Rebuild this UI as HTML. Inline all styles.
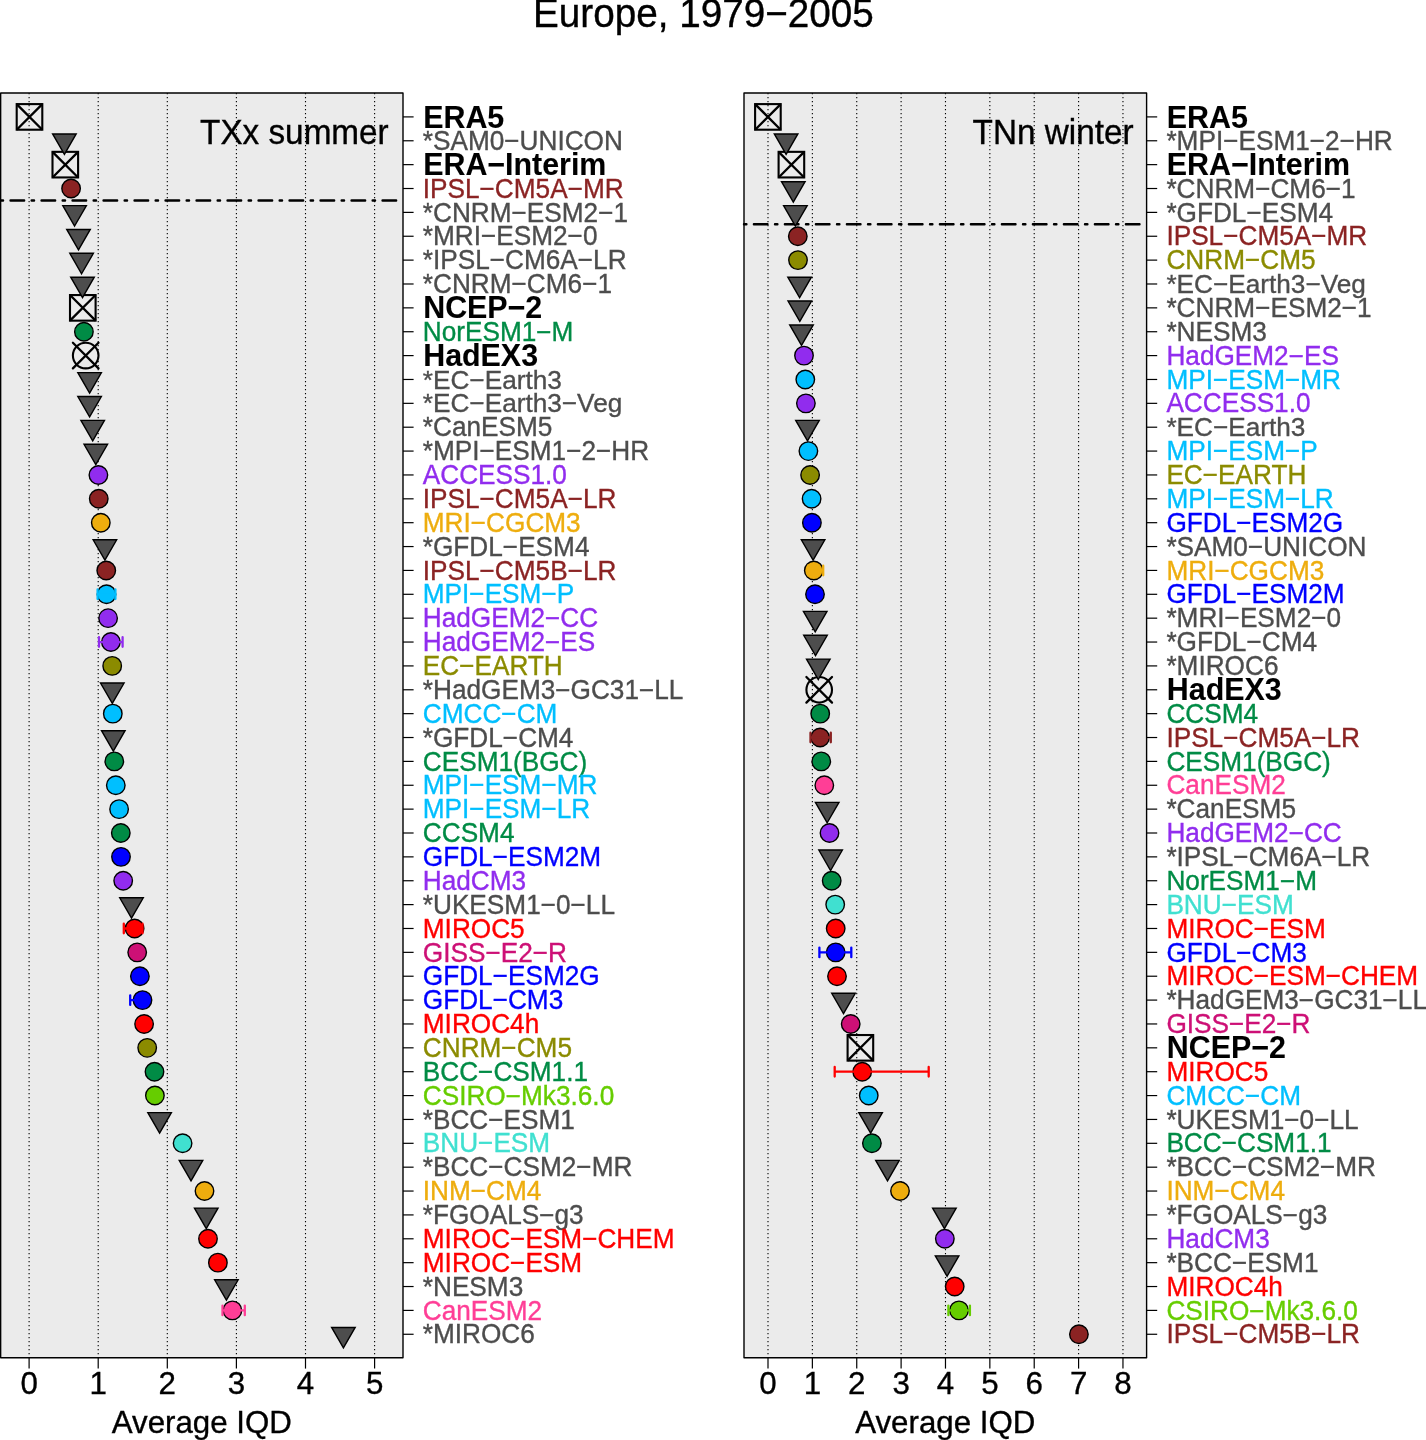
<!DOCTYPE html>
<html><head><meta charset="utf-8"><title>Europe, 1979−2005</title>
<style>
html,body{margin:0;padding:0;background:#fff;}
svg{display:block;}
text{font-family:"Liberation Sans",Arial,sans-serif;}
.lb{font-size:26.2px;stroke:currentColor;stroke-width:0.35px;}
.b{font-weight:bold;font-size:30.4px;fill:#000;color:#000;stroke-width:0.1px;}
.ax{font-size:31.3px;fill:#000;stroke:#000;stroke-width:0.35px;}
.pt{font-size:33.3px;fill:#000;stroke:#000;stroke-width:0.35px;}
.ti{font-size:38.7px;fill:#000;stroke:#000;stroke-width:0.35px;}
.grid{stroke:#000;stroke-width:1.1;stroke-dasharray:1.2 2.8;}
.dd{stroke:#000;stroke-width:2.4;stroke-linecap:round;stroke-dasharray:2.4 7.5 13.6 7.5;}
.tk{stroke:#000;stroke-width:1.2;}
</style></head>
<body>
<svg width="1426" height="1440" viewBox="0 0 1426 1440">
<rect width="1426" height="1440" fill="#fff"/>
<rect x="0.65" y="93" width="402.35" height="1264.7" fill="#ebebeb"/>
<line x1="29.1" y1="93" x2="29.1" y2="1357.7" class="grid"/>
<line x1="98.2" y1="93" x2="98.2" y2="1357.7" class="grid"/>
<line x1="167.3" y1="93" x2="167.3" y2="1357.7" class="grid"/>
<line x1="236.4" y1="93" x2="236.4" y2="1357.7" class="grid"/>
<line x1="305.5" y1="93" x2="305.5" y2="1357.7" class="grid"/>
<line x1="374.6" y1="93" x2="374.6" y2="1357.7" class="grid"/>
<line x1="0.65" y1="200.5" x2="403" y2="200.5" class="dd"/>
<text transform="matrix(1 0 0 1.035 388.7 144.1)" class="pt" text-anchor="end">TXx summer</text>
<polygon points="343.4,1347.88 355.18,1327.47 331.62,1327.47" fill="#4d4d4d" stroke="#000" stroke-width="1.4" stroke-linejoin="miter"/>
<circle cx="232.4" cy="1310.4" r="9.25" fill="#ff3e96" stroke="#000" stroke-width="1.4"/>
<polygon points="226.4,1300.14 238.18,1279.73 214.62,1279.73" fill="#4d4d4d" stroke="#000" stroke-width="1.4" stroke-linejoin="miter"/>
<circle cx="217.9" cy="1262.66" r="9.25" fill="#ff0000" stroke="#000" stroke-width="1.4"/>
<circle cx="208" cy="1238.79" r="9.25" fill="#ff0000" stroke="#000" stroke-width="1.4"/>
<polygon points="206.25,1228.53 218.03,1208.12 194.47,1208.12" fill="#4d4d4d" stroke="#000" stroke-width="1.4" stroke-linejoin="miter"/>
<circle cx="204.5" cy="1191.05" r="9.25" fill="#eead0e" stroke="#000" stroke-width="1.4"/>
<polygon points="191,1180.79 202.78,1160.38 179.22,1160.38" fill="#4d4d4d" stroke="#000" stroke-width="1.4" stroke-linejoin="miter"/>
<circle cx="182.6" cy="1143.31" r="9.25" fill="#40e0d0" stroke="#000" stroke-width="1.4"/>
<polygon points="159.6,1133.05 171.38,1112.64 147.82,1112.64" fill="#4d4d4d" stroke="#000" stroke-width="1.4" stroke-linejoin="miter"/>
<circle cx="154.9" cy="1095.57" r="9.25" fill="#66cd00" stroke="#000" stroke-width="1.4"/>
<circle cx="154.5" cy="1071.7" r="9.25" fill="#008b45" stroke="#000" stroke-width="1.4"/>
<circle cx="147.2" cy="1047.83" r="9.25" fill="#8b8b00" stroke="#000" stroke-width="1.4"/>
<circle cx="144.1" cy="1023.96" r="9.25" fill="#ff0000" stroke="#000" stroke-width="1.4"/>
<circle cx="142.5" cy="1000.09" r="9.25" fill="#0000ff" stroke="#000" stroke-width="1.4"/>
<circle cx="139.9" cy="976.22" r="9.25" fill="#0000ff" stroke="#000" stroke-width="1.4"/>
<circle cx="137.2" cy="952.35" r="9.25" fill="#cd1076" stroke="#000" stroke-width="1.4"/>
<circle cx="134.6" cy="928.48" r="9.25" fill="#ff0000" stroke="#000" stroke-width="1.4"/>
<polygon points="131.5,918.22 143.28,897.81 119.72,897.81" fill="#4d4d4d" stroke="#000" stroke-width="1.4" stroke-linejoin="miter"/>
<circle cx="123.2" cy="880.74" r="9.25" fill="#912cee" stroke="#000" stroke-width="1.4"/>
<circle cx="121" cy="856.87" r="9.25" fill="#0000ff" stroke="#000" stroke-width="1.4"/>
<circle cx="120.8" cy="833" r="9.25" fill="#008b45" stroke="#000" stroke-width="1.4"/>
<circle cx="119.1" cy="809.13" r="9.25" fill="#00bfff" stroke="#000" stroke-width="1.4"/>
<circle cx="115.8" cy="785.26" r="9.25" fill="#00bfff" stroke="#000" stroke-width="1.4"/>
<circle cx="114.3" cy="761.39" r="9.25" fill="#008b45" stroke="#000" stroke-width="1.4"/>
<polygon points="113.3,751.13 125.08,730.72 101.52,730.72" fill="#4d4d4d" stroke="#000" stroke-width="1.4" stroke-linejoin="miter"/>
<circle cx="112.8" cy="713.65" r="9.25" fill="#00bfff" stroke="#000" stroke-width="1.4"/>
<polygon points="112.3,703.39 124.08,682.98 100.52,682.98" fill="#4d4d4d" stroke="#000" stroke-width="1.4" stroke-linejoin="miter"/>
<circle cx="112.2" cy="665.91" r="9.25" fill="#8b8b00" stroke="#000" stroke-width="1.4"/>
<circle cx="110.9" cy="642.04" r="9.25" fill="#912cee" stroke="#000" stroke-width="1.4"/>
<circle cx="108.1" cy="618.17" r="9.25" fill="#912cee" stroke="#000" stroke-width="1.4"/>
<circle cx="106.5" cy="594.3" r="9.25" fill="#00bfff" stroke="#000" stroke-width="1.4"/>
<circle cx="106.25" cy="570.43" r="9.25" fill="#8b2323" stroke="#000" stroke-width="1.4"/>
<polygon points="104.9,560.17 116.68,539.76 93.12,539.76" fill="#4d4d4d" stroke="#000" stroke-width="1.4" stroke-linejoin="miter"/>
<circle cx="100.8" cy="522.69" r="9.25" fill="#eead0e" stroke="#000" stroke-width="1.4"/>
<circle cx="98.75" cy="498.82" r="9.25" fill="#8b2323" stroke="#000" stroke-width="1.4"/>
<circle cx="98.4" cy="474.95" r="9.25" fill="#912cee" stroke="#000" stroke-width="1.4"/>
<polygon points="95.8,464.69 107.58,444.28 84.02,444.28" fill="#4d4d4d" stroke="#000" stroke-width="1.4" stroke-linejoin="miter"/>
<polygon points="92.7,440.82 104.48,420.41 80.92,420.41" fill="#4d4d4d" stroke="#000" stroke-width="1.4" stroke-linejoin="miter"/>
<polygon points="89.6,416.95 101.38,396.54 77.82,396.54" fill="#4d4d4d" stroke="#000" stroke-width="1.4" stroke-linejoin="miter"/>
<polygon points="89.6,393.08 101.38,372.67 77.82,372.67" fill="#4d4d4d" stroke="#000" stroke-width="1.4" stroke-linejoin="miter"/>
<circle cx="85.7" cy="355.6" r="12.8" fill="none" stroke="#000" stroke-width="2.1"/><path d="M72.9 342.8L98.5 368.4M72.9 368.4L98.5 342.8" stroke="#000" stroke-width="2.3" stroke-linecap="round" fill="none"/>
<circle cx="83.9" cy="331.73" r="9.25" fill="#008b45" stroke="#000" stroke-width="1.4"/>
<rect x="70" y="295.06" width="25.6" height="25.6" fill="none" stroke="#000" stroke-width="2.1"/><path d="M70 295.06L95.6 320.66M70 320.66L95.6 295.06" stroke="#000" stroke-width="2.3" fill="none"/>
<polygon points="82.5,297.6 94.28,277.19 70.72,277.19" fill="#4d4d4d" stroke="#000" stroke-width="1.4" stroke-linejoin="miter"/>
<polygon points="81.6,273.73 93.38,253.32 69.82,253.32" fill="#4d4d4d" stroke="#000" stroke-width="1.4" stroke-linejoin="miter"/>
<polygon points="78.5,249.86 90.28,229.45 66.72,229.45" fill="#4d4d4d" stroke="#000" stroke-width="1.4" stroke-linejoin="miter"/>
<polygon points="74.6,225.99 86.38,205.58 62.82,205.58" fill="#4d4d4d" stroke="#000" stroke-width="1.4" stroke-linejoin="miter"/>
<circle cx="71.1" cy="188.51" r="9.25" fill="#8b2323" stroke="#000" stroke-width="1.4"/>
<rect x="52.5" y="151.84" width="25.6" height="25.6" fill="none" stroke="#000" stroke-width="2.1"/><path d="M52.5 151.84L78.1 177.44M52.5 177.44L78.1 151.84" stroke="#000" stroke-width="2.3" fill="none"/>
<polygon points="64.4,154.38 76.18,133.97 52.62,133.97" fill="#4d4d4d" stroke="#000" stroke-width="1.4" stroke-linejoin="miter"/>
<rect x="16.7" y="104.1" width="25.6" height="25.6" fill="none" stroke="#000" stroke-width="2.1"/><path d="M16.7 104.1L42.3 129.7M16.7 129.7L42.3 104.1" stroke="#000" stroke-width="2.3" fill="none"/>
<path d="M97.6 594.3H115.4M97.6 589.5V599.1M115.4 589.5V599.1" stroke="#00bfff" stroke-width="2.3" stroke-linecap="round" fill="none"/>
<path d="M99 642.04H122.6M99 637.24V646.84M122.6 637.24V646.84" stroke="#912cee" stroke-width="2.3" stroke-linecap="round" fill="none"/>
<path d="M123.8 928.48H142.5M123.8 923.68V933.28M142.5 923.68V933.28" stroke="#ff0000" stroke-width="2.3" stroke-linecap="round" fill="none"/>
<path d="M130.2 1000.09H147.5M130.2 995.29V1004.89M147.5 995.29V1004.89" stroke="#0000ff" stroke-width="2.3" stroke-linecap="round" fill="none"/>
<path d="M222.5 1310.4H244.8M222.5 1305.6V1315.2M244.8 1305.6V1315.2" stroke="#ff3e96" stroke-width="2.3" stroke-linecap="round" fill="none"/>
<rect x="0.65" y="93" width="402.35" height="1264.7" fill="none" stroke="#000" stroke-width="1.4" stroke-linejoin="round"/>
<line x1="403" y1="116.9" x2="413.6" y2="116.9" class="tk"/>
<text transform="matrix(1 0 0 1.02 423.2 127.5)" class="lb b">ERA5</text>
<line x1="403" y1="140.77" x2="413.6" y2="140.77" class="tk"/>
<text transform="matrix(1 0 0 1.04 422.8 149.92)" class="lb" fill="#4d4d4d" color="#4d4d4d">*SAM0−UNICON</text>
<line x1="403" y1="164.64" x2="413.6" y2="164.64" class="tk"/>
<text transform="matrix(1 0 0 1.02 423.2 175.24)" class="lb b">ERA−Interim</text>
<line x1="403" y1="188.51" x2="413.6" y2="188.51" class="tk"/>
<text transform="matrix(1 0 0 1.04 422.8 197.66)" class="lb" fill="#8b2323" color="#8b2323">IPSL−CM5A−MR</text>
<line x1="403" y1="212.38" x2="413.6" y2="212.38" class="tk"/>
<text transform="matrix(1 0 0 1.04 422.8 221.53)" class="lb" fill="#4d4d4d" color="#4d4d4d">*CNRM−ESM2−1</text>
<line x1="403" y1="236.25" x2="413.6" y2="236.25" class="tk"/>
<text transform="matrix(1 0 0 1.04 422.8 245.4)" class="lb" fill="#4d4d4d" color="#4d4d4d">*MRI−ESM2−0</text>
<line x1="403" y1="260.12" x2="413.6" y2="260.12" class="tk"/>
<text transform="matrix(1 0 0 1.04 422.8 269.27)" class="lb" fill="#4d4d4d" color="#4d4d4d">*IPSL−CM6A−LR</text>
<line x1="403" y1="283.99" x2="413.6" y2="283.99" class="tk"/>
<text transform="matrix(1 0 0 1.04 422.8 293.14)" class="lb" fill="#4d4d4d" color="#4d4d4d">*CNRM−CM6−1</text>
<line x1="403" y1="307.86" x2="413.6" y2="307.86" class="tk"/>
<text transform="matrix(1 0 0 1.02 423.2 318.46)" class="lb b">NCEP−2</text>
<line x1="403" y1="331.73" x2="413.6" y2="331.73" class="tk"/>
<text transform="matrix(1 0 0 1.02 422.8 340.88)" class="lb" fill="#008b45" color="#008b45">NorESM1−M</text>
<line x1="403" y1="355.6" x2="413.6" y2="355.6" class="tk"/>
<text transform="matrix(1 0 0 1.02 423.2 366.2)" class="lb b">HadEX3</text>
<line x1="403" y1="379.47" x2="413.6" y2="379.47" class="tk"/>
<text transform="matrix(1 0 0 1.0 422.8 388.62)" class="lb" fill="#4d4d4d" color="#4d4d4d">*EC−Earth3</text>
<line x1="403" y1="403.34" x2="413.6" y2="403.34" class="tk"/>
<text transform="matrix(1 0 0 1.0 422.8 412.49)" class="lb" fill="#4d4d4d" color="#4d4d4d">*EC−Earth3−Veg</text>
<line x1="403" y1="427.21" x2="413.6" y2="427.21" class="tk"/>
<text transform="matrix(1 0 0 1.02 422.8 436.36)" class="lb" fill="#4d4d4d" color="#4d4d4d">*CanESM5</text>
<line x1="403" y1="451.08" x2="413.6" y2="451.08" class="tk"/>
<text transform="matrix(1 0 0 1.04 422.8 460.23)" class="lb" fill="#4d4d4d" color="#4d4d4d">*MPI−ESM1−2−HR</text>
<line x1="403" y1="474.95" x2="413.6" y2="474.95" class="tk"/>
<text transform="matrix(1 0 0 1.04 422.8 484.1)" class="lb" fill="#912cee" color="#912cee">ACCESS1.0</text>
<line x1="403" y1="498.82" x2="413.6" y2="498.82" class="tk"/>
<text transform="matrix(1 0 0 1.04 422.8 507.97)" class="lb" fill="#8b2323" color="#8b2323">IPSL−CM5A−LR</text>
<line x1="403" y1="522.69" x2="413.6" y2="522.69" class="tk"/>
<text transform="matrix(1 0 0 1.04 422.8 531.84)" class="lb" fill="#eead0e" color="#eead0e">MRI−CGCM3</text>
<line x1="403" y1="546.56" x2="413.6" y2="546.56" class="tk"/>
<text transform="matrix(1 0 0 1.04 422.8 555.71)" class="lb" fill="#4d4d4d" color="#4d4d4d">*GFDL−ESM4</text>
<line x1="403" y1="570.43" x2="413.6" y2="570.43" class="tk"/>
<text transform="matrix(1 0 0 1.04 422.8 579.58)" class="lb" fill="#8b2323" color="#8b2323">IPSL−CM5B−LR</text>
<line x1="403" y1="594.3" x2="413.6" y2="594.3" class="tk"/>
<text transform="matrix(1 0 0 1.04 422.8 603.45)" class="lb" fill="#00bfff" color="#00bfff">MPI−ESM−P</text>
<line x1="403" y1="618.17" x2="413.6" y2="618.17" class="tk"/>
<text transform="matrix(1 0 0 1.02 422.8 627.32)" class="lb" fill="#912cee" color="#912cee">HadGEM2−CC</text>
<line x1="403" y1="642.04" x2="413.6" y2="642.04" class="tk"/>
<text transform="matrix(1 0 0 1.02 422.8 651.19)" class="lb" fill="#912cee" color="#912cee">HadGEM2−ES</text>
<line x1="403" y1="665.91" x2="413.6" y2="665.91" class="tk"/>
<text transform="matrix(1 0 0 1.04 422.8 675.06)" class="lb" fill="#8b8b00" color="#8b8b00">EC−EARTH</text>
<line x1="403" y1="689.78" x2="413.6" y2="689.78" class="tk"/>
<text transform="matrix(1 0 0 1.02 422.8 698.93)" class="lb" fill="#4d4d4d" color="#4d4d4d">*HadGEM3−GC31−LL</text>
<line x1="403" y1="713.65" x2="413.6" y2="713.65" class="tk"/>
<text transform="matrix(1 0 0 1.04 422.8 722.8)" class="lb" fill="#00bfff" color="#00bfff">CMCC−CM</text>
<line x1="403" y1="737.52" x2="413.6" y2="737.52" class="tk"/>
<text transform="matrix(1 0 0 1.04 422.8 746.67)" class="lb" fill="#4d4d4d" color="#4d4d4d">*GFDL−CM4</text>
<line x1="403" y1="761.39" x2="413.6" y2="761.39" class="tk"/>
<text transform="matrix(1 0 0 1.04 422.8 770.54)" class="lb" fill="#008b45" color="#008b45">CESM1(BGC)</text>
<line x1="403" y1="785.26" x2="413.6" y2="785.26" class="tk"/>
<text transform="matrix(1 0 0 1.04 422.8 794.41)" class="lb" fill="#00bfff" color="#00bfff">MPI−ESM−MR</text>
<line x1="403" y1="809.13" x2="413.6" y2="809.13" class="tk"/>
<text transform="matrix(1 0 0 1.04 422.8 818.28)" class="lb" fill="#00bfff" color="#00bfff">MPI−ESM−LR</text>
<line x1="403" y1="833" x2="413.6" y2="833" class="tk"/>
<text transform="matrix(1 0 0 1.04 422.8 842.15)" class="lb" fill="#008b45" color="#008b45">CCSM4</text>
<line x1="403" y1="856.87" x2="413.6" y2="856.87" class="tk"/>
<text transform="matrix(1 0 0 1.04 422.8 866.02)" class="lb" fill="#0000ff" color="#0000ff">GFDL−ESM2M</text>
<line x1="403" y1="880.74" x2="413.6" y2="880.74" class="tk"/>
<text transform="matrix(1 0 0 1.02 422.8 889.89)" class="lb" fill="#912cee" color="#912cee">HadCM3</text>
<line x1="403" y1="904.61" x2="413.6" y2="904.61" class="tk"/>
<text transform="matrix(1 0 0 1.04 422.8 913.76)" class="lb" fill="#4d4d4d" color="#4d4d4d">*UKESM1−0−LL</text>
<line x1="403" y1="928.48" x2="413.6" y2="928.48" class="tk"/>
<text transform="matrix(1 0 0 1.04 422.8 937.63)" class="lb" fill="#ff0000" color="#ff0000">MIROC5</text>
<line x1="403" y1="952.35" x2="413.6" y2="952.35" class="tk"/>
<text transform="matrix(1 0 0 1.04 422.8 961.5)" class="lb" fill="#cd1076" color="#cd1076">GISS−E2−R</text>
<line x1="403" y1="976.22" x2="413.6" y2="976.22" class="tk"/>
<text transform="matrix(1 0 0 1.04 422.8 985.37)" class="lb" fill="#0000ff" color="#0000ff">GFDL−ESM2G</text>
<line x1="403" y1="1000.09" x2="413.6" y2="1000.09" class="tk"/>
<text transform="matrix(1 0 0 1.04 422.8 1009.24)" class="lb" fill="#0000ff" color="#0000ff">GFDL−CM3</text>
<line x1="403" y1="1023.96" x2="413.6" y2="1023.96" class="tk"/>
<text transform="matrix(1 0 0 1.02 422.8 1033.11)" class="lb" fill="#ff0000" color="#ff0000">MIROC4h</text>
<line x1="403" y1="1047.83" x2="413.6" y2="1047.83" class="tk"/>
<text transform="matrix(1 0 0 1.04 422.8 1056.98)" class="lb" fill="#8b8b00" color="#8b8b00">CNRM−CM5</text>
<line x1="403" y1="1071.7" x2="413.6" y2="1071.7" class="tk"/>
<text transform="matrix(1 0 0 1.04 422.8 1080.85)" class="lb" fill="#008b45" color="#008b45">BCC−CSM1.1</text>
<line x1="403" y1="1095.57" x2="413.6" y2="1095.57" class="tk"/>
<text transform="matrix(1 0 0 1.02 422.8 1104.72)" class="lb" fill="#66cd00" color="#66cd00">CSIRO−Mk3.6.0</text>
<line x1="403" y1="1119.44" x2="413.6" y2="1119.44" class="tk"/>
<text transform="matrix(1 0 0 1.04 422.8 1128.59)" class="lb" fill="#4d4d4d" color="#4d4d4d">*BCC−ESM1</text>
<line x1="403" y1="1143.31" x2="413.6" y2="1143.31" class="tk"/>
<text transform="matrix(1 0 0 1.04 422.8 1152.46)" class="lb" fill="#40e0d0" color="#40e0d0">BNU−ESM</text>
<line x1="403" y1="1167.18" x2="413.6" y2="1167.18" class="tk"/>
<text transform="matrix(1 0 0 1.04 422.8 1176.33)" class="lb" fill="#4d4d4d" color="#4d4d4d">*BCC−CSM2−MR</text>
<line x1="403" y1="1191.05" x2="413.6" y2="1191.05" class="tk"/>
<text transform="matrix(1 0 0 1.04 422.8 1200.2)" class="lb" fill="#eead0e" color="#eead0e">INM−CM4</text>
<line x1="403" y1="1214.92" x2="413.6" y2="1214.92" class="tk"/>
<text transform="matrix(1 0 0 1.02 422.8 1224.07)" class="lb" fill="#4d4d4d" color="#4d4d4d">*FGOALS−g3</text>
<line x1="403" y1="1238.79" x2="413.6" y2="1238.79" class="tk"/>
<text transform="matrix(1 0 0 1.04 422.8 1247.94)" class="lb" fill="#ff0000" color="#ff0000">MIROC−ESM−CHEM</text>
<line x1="403" y1="1262.66" x2="413.6" y2="1262.66" class="tk"/>
<text transform="matrix(1 0 0 1.04 422.8 1271.81)" class="lb" fill="#ff0000" color="#ff0000">MIROC−ESM</text>
<line x1="403" y1="1286.53" x2="413.6" y2="1286.53" class="tk"/>
<text transform="matrix(1 0 0 1.04 422.8 1295.68)" class="lb" fill="#4d4d4d" color="#4d4d4d">*NESM3</text>
<line x1="403" y1="1310.4" x2="413.6" y2="1310.4" class="tk"/>
<text transform="matrix(1 0 0 1.02 422.8 1319.55)" class="lb" fill="#ff3e96" color="#ff3e96">CanESM2</text>
<line x1="403" y1="1334.27" x2="413.6" y2="1334.27" class="tk"/>
<text transform="matrix(1 0 0 1.04 422.8 1343.42)" class="lb" fill="#4d4d4d" color="#4d4d4d">*MIROC6</text>
<line x1="29.1" y1="1357.7" x2="29.1" y2="1368.6" class="tk"/>
<text transform="matrix(1 0 0 1.02 29.1 1393.6)" class="ax" text-anchor="middle">0</text>
<line x1="98.2" y1="1357.7" x2="98.2" y2="1368.6" class="tk"/>
<text transform="matrix(1 0 0 1.02 98.2 1393.6)" class="ax" text-anchor="middle">1</text>
<line x1="167.3" y1="1357.7" x2="167.3" y2="1368.6" class="tk"/>
<text transform="matrix(1 0 0 1.02 167.3 1393.6)" class="ax" text-anchor="middle">2</text>
<line x1="236.4" y1="1357.7" x2="236.4" y2="1368.6" class="tk"/>
<text transform="matrix(1 0 0 1.02 236.4 1393.6)" class="ax" text-anchor="middle">3</text>
<line x1="305.5" y1="1357.7" x2="305.5" y2="1368.6" class="tk"/>
<text transform="matrix(1 0 0 1.02 305.5 1393.6)" class="ax" text-anchor="middle">4</text>
<line x1="374.6" y1="1357.7" x2="374.6" y2="1368.6" class="tk"/>
<text transform="matrix(1 0 0 1.02 374.6 1393.6)" class="ax" text-anchor="middle">5</text>
<text transform="matrix(1 0 0 1.015 201.82 1433.3)" class="ax" text-anchor="middle">Average IQD</text>
<rect x="744" y="93" width="402.6" height="1264.7" fill="#ebebeb"/>
<line x1="768" y1="93" x2="768" y2="1357.7" class="grid"/>
<line x1="812.37" y1="93" x2="812.37" y2="1357.7" class="grid"/>
<line x1="856.74" y1="93" x2="856.74" y2="1357.7" class="grid"/>
<line x1="901.11" y1="93" x2="901.11" y2="1357.7" class="grid"/>
<line x1="945.48" y1="93" x2="945.48" y2="1357.7" class="grid"/>
<line x1="989.85" y1="93" x2="989.85" y2="1357.7" class="grid"/>
<line x1="1034.22" y1="93" x2="1034.22" y2="1357.7" class="grid"/>
<line x1="1078.59" y1="93" x2="1078.59" y2="1357.7" class="grid"/>
<line x1="1122.96" y1="93" x2="1122.96" y2="1357.7" class="grid"/>
<line x1="744" y1="224.3" x2="1146.6" y2="224.3" class="dd"/>
<text transform="matrix(1 0 0 1.035 1133.5 144.1)" class="pt" text-anchor="end">TNn winter</text>
<circle cx="1078.9" cy="1334.27" r="9.25" fill="#8b2323" stroke="#000" stroke-width="1.4"/>
<circle cx="959" cy="1310.4" r="9.25" fill="#66cd00" stroke="#000" stroke-width="1.4"/>
<circle cx="954.7" cy="1286.53" r="9.25" fill="#ff0000" stroke="#000" stroke-width="1.4"/>
<polygon points="947.1,1276.27 958.88,1255.86 935.32,1255.86" fill="#4d4d4d" stroke="#000" stroke-width="1.4" stroke-linejoin="miter"/>
<circle cx="944.85" cy="1238.79" r="9.25" fill="#912cee" stroke="#000" stroke-width="1.4"/>
<polygon points="944.4,1228.53 956.18,1208.12 932.62,1208.12" fill="#4d4d4d" stroke="#000" stroke-width="1.4" stroke-linejoin="miter"/>
<circle cx="900" cy="1191.05" r="9.25" fill="#eead0e" stroke="#000" stroke-width="1.4"/>
<polygon points="887.5,1180.79 899.28,1160.38 875.72,1160.38" fill="#4d4d4d" stroke="#000" stroke-width="1.4" stroke-linejoin="miter"/>
<circle cx="871.9" cy="1143.31" r="9.25" fill="#008b45" stroke="#000" stroke-width="1.4"/>
<polygon points="870.6,1133.05 882.38,1112.64 858.82,1112.64" fill="#4d4d4d" stroke="#000" stroke-width="1.4" stroke-linejoin="miter"/>
<circle cx="868.75" cy="1095.57" r="9.25" fill="#00bfff" stroke="#000" stroke-width="1.4"/>
<circle cx="862.2" cy="1071.7" r="9.25" fill="#ff0000" stroke="#000" stroke-width="1.4"/>
<rect x="847.6" y="1035.03" width="25.6" height="25.6" fill="none" stroke="#000" stroke-width="2.1"/><path d="M847.6 1035.03L873.2 1060.63M847.6 1060.63L873.2 1035.03" stroke="#000" stroke-width="2.3" fill="none"/>
<circle cx="850.7" cy="1023.96" r="9.25" fill="#cd1076" stroke="#000" stroke-width="1.4"/>
<polygon points="843.5,1013.7 855.28,993.29 831.72,993.29" fill="#4d4d4d" stroke="#000" stroke-width="1.4" stroke-linejoin="miter"/>
<circle cx="837" cy="976.22" r="9.25" fill="#ff0000" stroke="#000" stroke-width="1.4"/>
<circle cx="835.7" cy="952.35" r="9.25" fill="#0000ff" stroke="#000" stroke-width="1.4"/>
<circle cx="835.7" cy="928.48" r="9.25" fill="#ff0000" stroke="#000" stroke-width="1.4"/>
<circle cx="835.2" cy="904.61" r="9.25" fill="#40e0d0" stroke="#000" stroke-width="1.4"/>
<circle cx="831.7" cy="880.74" r="9.25" fill="#008b45" stroke="#000" stroke-width="1.4"/>
<polygon points="830.6,870.48 842.38,850.07 818.82,850.07" fill="#4d4d4d" stroke="#000" stroke-width="1.4" stroke-linejoin="miter"/>
<circle cx="829.5" cy="833" r="9.25" fill="#912cee" stroke="#000" stroke-width="1.4"/>
<polygon points="827.2,822.74 838.98,802.33 815.42,802.33" fill="#4d4d4d" stroke="#000" stroke-width="1.4" stroke-linejoin="miter"/>
<circle cx="824.3" cy="785.26" r="9.25" fill="#ff3e96" stroke="#000" stroke-width="1.4"/>
<circle cx="821.25" cy="761.39" r="9.25" fill="#008b45" stroke="#000" stroke-width="1.4"/>
<circle cx="820.1" cy="737.52" r="9.25" fill="#8b2323" stroke="#000" stroke-width="1.4"/>
<circle cx="820.2" cy="713.65" r="9.25" fill="#008b45" stroke="#000" stroke-width="1.4"/>
<circle cx="819.2" cy="689.78" r="12.8" fill="none" stroke="#000" stroke-width="2.1"/><path d="M806.4 676.98L832 702.58M806.4 702.58L832 676.98" stroke="#000" stroke-width="2.3" stroke-linecap="round" fill="none"/>
<polygon points="818.3,679.52 830.08,659.11 806.52,659.11" fill="#4d4d4d" stroke="#000" stroke-width="1.4" stroke-linejoin="miter"/>
<polygon points="815.5,655.65 827.28,635.24 803.72,635.24" fill="#4d4d4d" stroke="#000" stroke-width="1.4" stroke-linejoin="miter"/>
<polygon points="815.2,631.78 826.98,611.37 803.42,611.37" fill="#4d4d4d" stroke="#000" stroke-width="1.4" stroke-linejoin="miter"/>
<circle cx="815" cy="594.3" r="9.25" fill="#0000ff" stroke="#000" stroke-width="1.4"/>
<circle cx="813.8" cy="570.43" r="9.25" fill="#eead0e" stroke="#000" stroke-width="1.4"/>
<polygon points="813.1,560.17 824.88,539.76 801.32,539.76" fill="#4d4d4d" stroke="#000" stroke-width="1.4" stroke-linejoin="miter"/>
<circle cx="811.9" cy="522.69" r="9.25" fill="#0000ff" stroke="#000" stroke-width="1.4"/>
<circle cx="811.6" cy="498.82" r="9.25" fill="#00bfff" stroke="#000" stroke-width="1.4"/>
<circle cx="810.1" cy="474.95" r="9.25" fill="#8b8b00" stroke="#000" stroke-width="1.4"/>
<circle cx="808.4" cy="451.08" r="9.25" fill="#00bfff" stroke="#000" stroke-width="1.4"/>
<polygon points="807.5,440.82 819.28,420.41 795.72,420.41" fill="#4d4d4d" stroke="#000" stroke-width="1.4" stroke-linejoin="miter"/>
<circle cx="805.9" cy="403.34" r="9.25" fill="#912cee" stroke="#000" stroke-width="1.4"/>
<circle cx="805.3" cy="379.47" r="9.25" fill="#00bfff" stroke="#000" stroke-width="1.4"/>
<circle cx="804" cy="355.6" r="9.25" fill="#912cee" stroke="#000" stroke-width="1.4"/>
<polygon points="801.5,345.34 813.28,324.93 789.72,324.93" fill="#4d4d4d" stroke="#000" stroke-width="1.4" stroke-linejoin="miter"/>
<polygon points="799.8,321.47 811.58,301.06 788.02,301.06" fill="#4d4d4d" stroke="#000" stroke-width="1.4" stroke-linejoin="miter"/>
<polygon points="799.6,297.6 811.38,277.19 787.82,277.19" fill="#4d4d4d" stroke="#000" stroke-width="1.4" stroke-linejoin="miter"/>
<circle cx="798" cy="260.12" r="9.25" fill="#8b8b00" stroke="#000" stroke-width="1.4"/>
<circle cx="797.8" cy="236.25" r="9.25" fill="#8b2323" stroke="#000" stroke-width="1.4"/>
<polygon points="795.4,225.99 807.18,205.58 783.62,205.58" fill="#4d4d4d" stroke="#000" stroke-width="1.4" stroke-linejoin="miter"/>
<polygon points="793.3,202.12 805.08,181.71 781.52,181.71" fill="#4d4d4d" stroke="#000" stroke-width="1.4" stroke-linejoin="miter"/>
<rect x="778.6" y="151.84" width="25.6" height="25.6" fill="none" stroke="#000" stroke-width="2.1"/><path d="M778.6 151.84L804.2 177.44M778.6 177.44L804.2 151.84" stroke="#000" stroke-width="2.3" fill="none"/>
<polygon points="786.1,154.38 797.88,133.97 774.32,133.97" fill="#4d4d4d" stroke="#000" stroke-width="1.4" stroke-linejoin="miter"/>
<rect x="755.1" y="104.1" width="25.6" height="25.6" fill="none" stroke="#000" stroke-width="2.1"/><path d="M755.1 104.1L780.7 129.7M755.1 129.7L780.7 104.1" stroke="#000" stroke-width="2.3" fill="none"/>
<path d="M808 570.43H823.2M808 565.63V575.23M823.2 565.63V575.23" stroke="#eead0e" stroke-width="2.3" stroke-linecap="round" fill="none"/>
<path d="M810.5 737.52H830.8M810.5 732.72V742.32M830.8 732.72V742.32" stroke="#8b2323" stroke-width="2.3" stroke-linecap="round" fill="none"/>
<path d="M819.4 952.35H851.3M819.4 947.55V957.15M851.3 947.55V957.15" stroke="#0000ff" stroke-width="2.3" stroke-linecap="round" fill="none"/>
<path d="M834.7 1071.7H928.7M834.7 1066.9V1076.5M928.7 1066.9V1076.5" stroke="#ff0000" stroke-width="2.3" stroke-linecap="round" fill="none"/>
<path d="M948.4 1310.4H969.9M948.4 1305.6V1315.2M969.9 1305.6V1315.2" stroke="#66cd00" stroke-width="2.3" stroke-linecap="round" fill="none"/>
<rect x="744" y="93" width="402.6" height="1264.7" fill="none" stroke="#000" stroke-width="1.4" stroke-linejoin="round"/>
<line x1="1146.6" y1="116.9" x2="1157.2" y2="116.9" class="tk"/>
<text transform="matrix(1 0 0 1.02 1166.8 127.5)" class="lb b">ERA5</text>
<line x1="1146.6" y1="140.77" x2="1157.2" y2="140.77" class="tk"/>
<text transform="matrix(1 0 0 1.04 1166.4 149.92)" class="lb" fill="#4d4d4d" color="#4d4d4d">*MPI−ESM1−2−HR</text>
<line x1="1146.6" y1="164.64" x2="1157.2" y2="164.64" class="tk"/>
<text transform="matrix(1 0 0 1.02 1166.8 175.24)" class="lb b">ERA−Interim</text>
<line x1="1146.6" y1="188.51" x2="1157.2" y2="188.51" class="tk"/>
<text transform="matrix(1 0 0 1.04 1166.4 197.66)" class="lb" fill="#4d4d4d" color="#4d4d4d">*CNRM−CM6−1</text>
<line x1="1146.6" y1="212.38" x2="1157.2" y2="212.38" class="tk"/>
<text transform="matrix(1 0 0 1.04 1166.4 221.53)" class="lb" fill="#4d4d4d" color="#4d4d4d">*GFDL−ESM4</text>
<line x1="1146.6" y1="236.25" x2="1157.2" y2="236.25" class="tk"/>
<text transform="matrix(1 0 0 1.04 1166.4 245.4)" class="lb" fill="#8b2323" color="#8b2323">IPSL−CM5A−MR</text>
<line x1="1146.6" y1="260.12" x2="1157.2" y2="260.12" class="tk"/>
<text transform="matrix(1 0 0 1.04 1166.4 269.27)" class="lb" fill="#8b8b00" color="#8b8b00">CNRM−CM5</text>
<line x1="1146.6" y1="283.99" x2="1157.2" y2="283.99" class="tk"/>
<text transform="matrix(1 0 0 1.0 1166.4 293.14)" class="lb" fill="#4d4d4d" color="#4d4d4d">*EC−Earth3−Veg</text>
<line x1="1146.6" y1="307.86" x2="1157.2" y2="307.86" class="tk"/>
<text transform="matrix(1 0 0 1.04 1166.4 317.01)" class="lb" fill="#4d4d4d" color="#4d4d4d">*CNRM−ESM2−1</text>
<line x1="1146.6" y1="331.73" x2="1157.2" y2="331.73" class="tk"/>
<text transform="matrix(1 0 0 1.04 1166.4 340.88)" class="lb" fill="#4d4d4d" color="#4d4d4d">*NESM3</text>
<line x1="1146.6" y1="355.6" x2="1157.2" y2="355.6" class="tk"/>
<text transform="matrix(1 0 0 1.02 1166.4 364.75)" class="lb" fill="#912cee" color="#912cee">HadGEM2−ES</text>
<line x1="1146.6" y1="379.47" x2="1157.2" y2="379.47" class="tk"/>
<text transform="matrix(1 0 0 1.04 1166.4 388.62)" class="lb" fill="#00bfff" color="#00bfff">MPI−ESM−MR</text>
<line x1="1146.6" y1="403.34" x2="1157.2" y2="403.34" class="tk"/>
<text transform="matrix(1 0 0 1.04 1166.4 412.49)" class="lb" fill="#912cee" color="#912cee">ACCESS1.0</text>
<line x1="1146.6" y1="427.21" x2="1157.2" y2="427.21" class="tk"/>
<text transform="matrix(1 0 0 1.0 1166.4 436.36)" class="lb" fill="#4d4d4d" color="#4d4d4d">*EC−Earth3</text>
<line x1="1146.6" y1="451.08" x2="1157.2" y2="451.08" class="tk"/>
<text transform="matrix(1 0 0 1.04 1166.4 460.23)" class="lb" fill="#00bfff" color="#00bfff">MPI−ESM−P</text>
<line x1="1146.6" y1="474.95" x2="1157.2" y2="474.95" class="tk"/>
<text transform="matrix(1 0 0 1.04 1166.4 484.1)" class="lb" fill="#8b8b00" color="#8b8b00">EC−EARTH</text>
<line x1="1146.6" y1="498.82" x2="1157.2" y2="498.82" class="tk"/>
<text transform="matrix(1 0 0 1.04 1166.4 507.97)" class="lb" fill="#00bfff" color="#00bfff">MPI−ESM−LR</text>
<line x1="1146.6" y1="522.69" x2="1157.2" y2="522.69" class="tk"/>
<text transform="matrix(1 0 0 1.04 1166.4 531.84)" class="lb" fill="#0000ff" color="#0000ff">GFDL−ESM2G</text>
<line x1="1146.6" y1="546.56" x2="1157.2" y2="546.56" class="tk"/>
<text transform="matrix(1 0 0 1.04 1166.4 555.71)" class="lb" fill="#4d4d4d" color="#4d4d4d">*SAM0−UNICON</text>
<line x1="1146.6" y1="570.43" x2="1157.2" y2="570.43" class="tk"/>
<text transform="matrix(1 0 0 1.04 1166.4 579.58)" class="lb" fill="#eead0e" color="#eead0e">MRI−CGCM3</text>
<line x1="1146.6" y1="594.3" x2="1157.2" y2="594.3" class="tk"/>
<text transform="matrix(1 0 0 1.04 1166.4 603.45)" class="lb" fill="#0000ff" color="#0000ff">GFDL−ESM2M</text>
<line x1="1146.6" y1="618.17" x2="1157.2" y2="618.17" class="tk"/>
<text transform="matrix(1 0 0 1.04 1166.4 627.32)" class="lb" fill="#4d4d4d" color="#4d4d4d">*MRI−ESM2−0</text>
<line x1="1146.6" y1="642.04" x2="1157.2" y2="642.04" class="tk"/>
<text transform="matrix(1 0 0 1.04 1166.4 651.19)" class="lb" fill="#4d4d4d" color="#4d4d4d">*GFDL−CM4</text>
<line x1="1146.6" y1="665.91" x2="1157.2" y2="665.91" class="tk"/>
<text transform="matrix(1 0 0 1.04 1166.4 675.06)" class="lb" fill="#4d4d4d" color="#4d4d4d">*MIROC6</text>
<line x1="1146.6" y1="689.78" x2="1157.2" y2="689.78" class="tk"/>
<text transform="matrix(1 0 0 1.02 1166.8 700.38)" class="lb b">HadEX3</text>
<line x1="1146.6" y1="713.65" x2="1157.2" y2="713.65" class="tk"/>
<text transform="matrix(1 0 0 1.04 1166.4 722.8)" class="lb" fill="#008b45" color="#008b45">CCSM4</text>
<line x1="1146.6" y1="737.52" x2="1157.2" y2="737.52" class="tk"/>
<text transform="matrix(1 0 0 1.04 1166.4 746.67)" class="lb" fill="#8b2323" color="#8b2323">IPSL−CM5A−LR</text>
<line x1="1146.6" y1="761.39" x2="1157.2" y2="761.39" class="tk"/>
<text transform="matrix(1 0 0 1.04 1166.4 770.54)" class="lb" fill="#008b45" color="#008b45">CESM1(BGC)</text>
<line x1="1146.6" y1="785.26" x2="1157.2" y2="785.26" class="tk"/>
<text transform="matrix(1 0 0 1.02 1166.4 794.41)" class="lb" fill="#ff3e96" color="#ff3e96">CanESM2</text>
<line x1="1146.6" y1="809.13" x2="1157.2" y2="809.13" class="tk"/>
<text transform="matrix(1 0 0 1.02 1166.4 818.28)" class="lb" fill="#4d4d4d" color="#4d4d4d">*CanESM5</text>
<line x1="1146.6" y1="833" x2="1157.2" y2="833" class="tk"/>
<text transform="matrix(1 0 0 1.02 1166.4 842.15)" class="lb" fill="#912cee" color="#912cee">HadGEM2−CC</text>
<line x1="1146.6" y1="856.87" x2="1157.2" y2="856.87" class="tk"/>
<text transform="matrix(1 0 0 1.04 1166.4 866.02)" class="lb" fill="#4d4d4d" color="#4d4d4d">*IPSL−CM6A−LR</text>
<line x1="1146.6" y1="880.74" x2="1157.2" y2="880.74" class="tk"/>
<text transform="matrix(1 0 0 1.02 1166.4 889.89)" class="lb" fill="#008b45" color="#008b45">NorESM1−M</text>
<line x1="1146.6" y1="904.61" x2="1157.2" y2="904.61" class="tk"/>
<text transform="matrix(1 0 0 1.04 1166.4 913.76)" class="lb" fill="#40e0d0" color="#40e0d0">BNU−ESM</text>
<line x1="1146.6" y1="928.48" x2="1157.2" y2="928.48" class="tk"/>
<text transform="matrix(1 0 0 1.04 1166.4 937.63)" class="lb" fill="#ff0000" color="#ff0000">MIROC−ESM</text>
<line x1="1146.6" y1="952.35" x2="1157.2" y2="952.35" class="tk"/>
<text transform="matrix(1 0 0 1.04 1166.4 961.5)" class="lb" fill="#0000ff" color="#0000ff">GFDL−CM3</text>
<line x1="1146.6" y1="976.22" x2="1157.2" y2="976.22" class="tk"/>
<text transform="matrix(1 0 0 1.04 1166.4 985.37)" class="lb" fill="#ff0000" color="#ff0000">MIROC−ESM−CHEM</text>
<line x1="1146.6" y1="1000.09" x2="1157.2" y2="1000.09" class="tk"/>
<text transform="matrix(1 0 0 1.02 1166.4 1009.24)" class="lb" fill="#4d4d4d" color="#4d4d4d">*HadGEM3−GC31−LL</text>
<line x1="1146.6" y1="1023.96" x2="1157.2" y2="1023.96" class="tk"/>
<text transform="matrix(1 0 0 1.04 1166.4 1033.11)" class="lb" fill="#cd1076" color="#cd1076">GISS−E2−R</text>
<line x1="1146.6" y1="1047.83" x2="1157.2" y2="1047.83" class="tk"/>
<text transform="matrix(1 0 0 1.02 1166.8 1058.43)" class="lb b">NCEP−2</text>
<line x1="1146.6" y1="1071.7" x2="1157.2" y2="1071.7" class="tk"/>
<text transform="matrix(1 0 0 1.04 1166.4 1080.85)" class="lb" fill="#ff0000" color="#ff0000">MIROC5</text>
<line x1="1146.6" y1="1095.57" x2="1157.2" y2="1095.57" class="tk"/>
<text transform="matrix(1 0 0 1.04 1166.4 1104.72)" class="lb" fill="#00bfff" color="#00bfff">CMCC−CM</text>
<line x1="1146.6" y1="1119.44" x2="1157.2" y2="1119.44" class="tk"/>
<text transform="matrix(1 0 0 1.04 1166.4 1128.59)" class="lb" fill="#4d4d4d" color="#4d4d4d">*UKESM1−0−LL</text>
<line x1="1146.6" y1="1143.31" x2="1157.2" y2="1143.31" class="tk"/>
<text transform="matrix(1 0 0 1.04 1166.4 1152.46)" class="lb" fill="#008b45" color="#008b45">BCC−CSM1.1</text>
<line x1="1146.6" y1="1167.18" x2="1157.2" y2="1167.18" class="tk"/>
<text transform="matrix(1 0 0 1.04 1166.4 1176.33)" class="lb" fill="#4d4d4d" color="#4d4d4d">*BCC−CSM2−MR</text>
<line x1="1146.6" y1="1191.05" x2="1157.2" y2="1191.05" class="tk"/>
<text transform="matrix(1 0 0 1.04 1166.4 1200.2)" class="lb" fill="#eead0e" color="#eead0e">INM−CM4</text>
<line x1="1146.6" y1="1214.92" x2="1157.2" y2="1214.92" class="tk"/>
<text transform="matrix(1 0 0 1.02 1166.4 1224.07)" class="lb" fill="#4d4d4d" color="#4d4d4d">*FGOALS−g3</text>
<line x1="1146.6" y1="1238.79" x2="1157.2" y2="1238.79" class="tk"/>
<text transform="matrix(1 0 0 1.02 1166.4 1247.94)" class="lb" fill="#912cee" color="#912cee">HadCM3</text>
<line x1="1146.6" y1="1262.66" x2="1157.2" y2="1262.66" class="tk"/>
<text transform="matrix(1 0 0 1.04 1166.4 1271.81)" class="lb" fill="#4d4d4d" color="#4d4d4d">*BCC−ESM1</text>
<line x1="1146.6" y1="1286.53" x2="1157.2" y2="1286.53" class="tk"/>
<text transform="matrix(1 0 0 1.02 1166.4 1295.68)" class="lb" fill="#ff0000" color="#ff0000">MIROC4h</text>
<line x1="1146.6" y1="1310.4" x2="1157.2" y2="1310.4" class="tk"/>
<text transform="matrix(1 0 0 1.02 1166.4 1319.55)" class="lb" fill="#66cd00" color="#66cd00">CSIRO−Mk3.6.0</text>
<line x1="1146.6" y1="1334.27" x2="1157.2" y2="1334.27" class="tk"/>
<text transform="matrix(1 0 0 1.04 1166.4 1343.42)" class="lb" fill="#8b2323" color="#8b2323">IPSL−CM5B−LR</text>
<line x1="768" y1="1357.7" x2="768" y2="1368.6" class="tk"/>
<text transform="matrix(1 0 0 1.02 768 1393.6)" class="ax" text-anchor="middle">0</text>
<line x1="812.37" y1="1357.7" x2="812.37" y2="1368.6" class="tk"/>
<text transform="matrix(1 0 0 1.02 812.37 1393.6)" class="ax" text-anchor="middle">1</text>
<line x1="856.74" y1="1357.7" x2="856.74" y2="1368.6" class="tk"/>
<text transform="matrix(1 0 0 1.02 856.74 1393.6)" class="ax" text-anchor="middle">2</text>
<line x1="901.11" y1="1357.7" x2="901.11" y2="1368.6" class="tk"/>
<text transform="matrix(1 0 0 1.02 901.11 1393.6)" class="ax" text-anchor="middle">3</text>
<line x1="945.48" y1="1357.7" x2="945.48" y2="1368.6" class="tk"/>
<text transform="matrix(1 0 0 1.02 945.48 1393.6)" class="ax" text-anchor="middle">4</text>
<line x1="989.85" y1="1357.7" x2="989.85" y2="1368.6" class="tk"/>
<text transform="matrix(1 0 0 1.02 989.85 1393.6)" class="ax" text-anchor="middle">5</text>
<line x1="1034.22" y1="1357.7" x2="1034.22" y2="1368.6" class="tk"/>
<text transform="matrix(1 0 0 1.02 1034.22 1393.6)" class="ax" text-anchor="middle">6</text>
<line x1="1078.59" y1="1357.7" x2="1078.59" y2="1368.6" class="tk"/>
<text transform="matrix(1 0 0 1.02 1078.59 1393.6)" class="ax" text-anchor="middle">7</text>
<line x1="1122.96" y1="1357.7" x2="1122.96" y2="1368.6" class="tk"/>
<text transform="matrix(1 0 0 1.02 1122.96 1393.6)" class="ax" text-anchor="middle">8</text>
<text transform="matrix(1 0 0 1.015 945.3 1433.3)" class="ax" text-anchor="middle">Average IQD</text>
<text transform="matrix(1 0 0 1.03 703.4 27.4)" class="ti" text-anchor="middle">Europe, 1979−2005</text>
</svg>
</body></html>
